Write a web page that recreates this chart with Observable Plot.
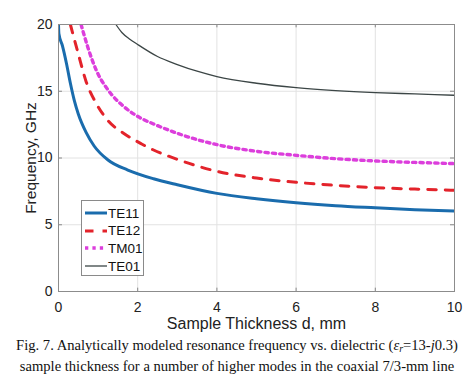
<!DOCTYPE html>
<html>
<head>
<meta charset="utf-8">
<script src="https://cdn.jsdelivr.net/npm/d3@7"></script>
<script src="https://cdn.jsdelivr.net/npm/@observablehq/plot@0.6"></script>
<style>
  body { margin: 0; background: #fff; width: 474px; height: 378px; overflow: hidden; position: relative; }
  #top { position: absolute; left: 2px; top: -16px; font: bold 15px "Liberation Serif", "Times New Roman", serif; color: #111; white-space: nowrap; }
  #chart { position: absolute; left: 0; top: 0; }
  #legend { position: absolute; left: 81px; top: 200px; width: 61px; height: 74px; border: 1px solid #8a8a8a; background: #fff; font: 13.5px "Liberation Sans", Arial, sans-serif; color: #111; }
  #legend .row { position: absolute; left: 0; height: 18px; display: flex; align-items: center; }
  #legend svg { margin-left: 3px; margin-right: 1px; }
  .cap { position: absolute; left: 0; width: 474px; text-align: center; font: 14.6px "Liberation Serif", "Times New Roman", serif; line-height: 18px; color: #111; white-space: nowrap; }
  .cap sub { font-size: 10px; line-height: 0; vertical-align: -2px; }
</style>
</head>
<body>
<div id="top">are imperfectly aligned [12].</div>
<div id="chart"></div>
<div id="legend"></div>
<div class="cap" style="top:336px">Fig. 7. Analytically modeled resonance frequency vs. dielectric (<i>ε<sub>r</sub></i>=13-<i>j</i>0.3)</div>
<div class="cap" style="top:357px">sample thickness for a number of higher modes in the coaxial 7/3-mm line</div>
<script>
// Data (thickness d in mm, frequency in GHz)
const te11D = [0, 0.01, 0.1, 0.2, 0.3, 0.4, 0.5, 0.7, 0.9, 1.25, 1.75, 2.4, 3.0, 4.0, 5.0, 6.0, 7.0, 8.0, 9.0, 10.0];
const te11F = [20, 19.3, 18.4, 17.1, 15.6, 14.3, 13.3, 11.9, 10.9, 9.85, 9.1, 8.45, 8.0, 7.35, 6.95, 6.65, 6.43, 6.27, 6.12, 6.02];
const te12D = [0.3, 0.5, 0.7, 0.95, 1.25, 1.67, 2.1, 2.4, 3.0, 4.0, 5.0, 6.0, 7.0, 8.0, 9.0, 10.0];
const te12F = [20, 17.8, 15.7, 14.1, 12.8, 11.8, 11.05, 10.6, 9.9, 9.0, 8.5, 8.18, 7.95, 7.78, 7.67, 7.58];
const tm01D = [0.57, 0.74, 0.95, 1.25, 1.67, 2.1, 2.4, 3.0, 4.0, 5.0, 6.0, 7.0, 8.0, 9.0, 10.0];
const tm01F = [20, 18.3, 16.6, 15.1, 13.8, 12.95, 12.55, 11.85, 11.0, 10.5, 10.2, 9.95, 9.78, 9.67, 9.58];
const te01D = [1.45, 1.6, 1.8, 2.0, 2.5, 3.0, 3.5, 4.0, 5.0, 6.0, 7.0, 8.0, 9.0, 10.0];
const te01F = [20, 19.4, 18.9, 18.5, 17.6, 17.0, 16.5, 16.1, 15.6, 15.27, 15.05, 14.9, 14.8, 14.7];
const modes = ["TE11", "TE12", "TM01", "TE01"];
const xTicks = [0, 2, 4, 6, 8, 10];
const yTicks = [0, 5, 10, 15, 20];

const series = [
  {name: modes[0], d: te11D, f: te11F},
  {name: modes[1], d: te12D, f: te12F},
  {name: modes[2], d: tm01D, f: tm01F},
  {name: modes[3], d: te01D, f: te01F}
];
const rows = s => s.d.map((d, i) => ({d, f: s.f[i]}));

const styles = {
  TE11: {stroke: "#1a6cad", strokeWidth: 3},
  TE12: {stroke: "#e3232b", strokeWidth: 3, strokeDasharray: "8.5,9"},
  TM01: {stroke: "#dc3edc", strokeWidth: 3.4, strokeDasharray: "3.3,4.1"},
  TE01: {stroke: "#3c4646", strokeWidth: 1.3}
};

const font = '"Liberation Sans", Arial, sans-serif';
const plot = Plot.plot({
  width: 474,
  height: 335,
  marginLeft: 58,
  marginRight: 20,
  marginTop: 24,
  marginBottom: 44,
  style: {fontFamily: font, fontSize: "14px", color: "#222", background: "transparent"},
  x: {domain: [0, 10], ticks: xTicks},
  y: {domain: [0, 20], ticks: yTicks},
  marks: [
    Plot.gridX(xTicks, {stroke: "#e2e2e2", strokeOpacity: 1, strokeWidth: 1}),
    Plot.gridY(yTicks, {stroke: "#e2e2e2", strokeOpacity: 1, strokeWidth: 1}),
    Plot.axisX(xTicks, {tickSize: 0, tickPadding: 11, label: "Sample Thickness d, mm", labelAnchor: "center", labelOffset: 37, labelArrow: "none", fontSize: 14}),
    Plot.axisY(yTicks, {tickSize: 0, tickPadding: 6, label: "Frequency, GHz", labelAnchor: "center", labelOffset: 34, labelArrow: "none", fontSize: 14}),
    Plot.ruleX(xTicks, {x: d => d, y1: 0, y2: 0.25, stroke: "#888"}),
    Plot.ruleX(xTicks, {x: d => d, y1: 19.75, y2: 20, stroke: "#888"}),
    Plot.ruleY(yTicks, {y: d => d, x1: 0, x2: 0.1, stroke: "#888"}),
    Plot.ruleY(yTicks, {y: d => d, x1: 9.9, x2: 10, stroke: "#888"}),
    ...series.map(s => Plot.line(rows(s), {x: "d", y: "f", ...styles[s.name], curve: "monotone-x", strokeLinejoin: "round", clip: true})),
    Plot.frame({stroke: "#8c8c8c", strokeWidth: 1})
  ]
});
document.getElementById("chart").appendChild(plot);

plot.querySelectorAll("[aria-label='x-axis label'] text").forEach(t => t.setAttribute("font-size", "16"));
plot.querySelectorAll("[aria-label='y-axis label'] text").forEach(t => t.setAttribute("font-size", "15.5"));

// Legend
const legend = document.getElementById("legend");
modes.forEach((m, i) => {
  const row = document.createElement("div");
  row.className = "row";
  row.style.top = (3 + i * 17.7) + "px";
  const st = styles[m];
  row.innerHTML = `<svg width="22" height="10"><line x1="0" y1="5" x2="22" y2="5" stroke="${st.stroke}" stroke-width="${st.strokeWidth}" ${st.strokeDasharray ? `stroke-dasharray="${st.strokeDasharray}"` : ""}/></svg><span>${m}</span>`;
  legend.appendChild(row);
});
</script>
</body>
</html>
